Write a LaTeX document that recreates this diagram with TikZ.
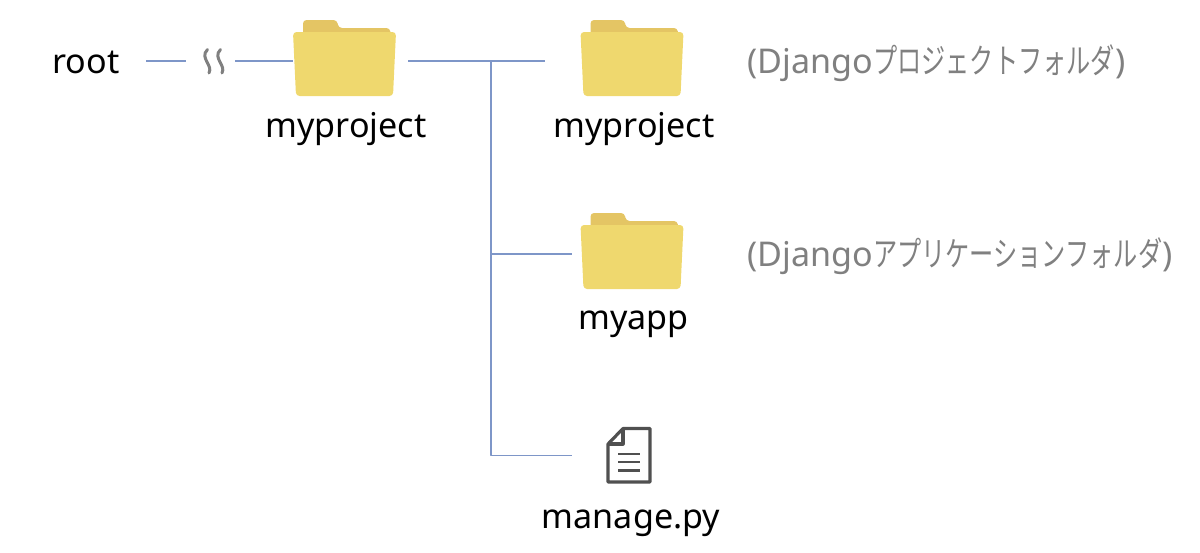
\documentclass[tikz,border=0pt]{standalone}
\usepackage{fontspec}
\setmainfont{Noto Sans}
\newfontfamily\cjk[FakeStretch=.71]{Noto Sans CJK JP}
\definecolor{folderfront}{HTML}{EFD86E}
\definecolor{folderback}{HTML}{E4C564}
\definecolor{linkblue}{HTML}{7E96C8}
\definecolor{notegray}{HTML}{808080}
\definecolor{docgray}{HTML}{505050}
\tikzset{
  link/.style={linkblue,line width=.75pt},
  itemname/.style={anchor=base,inner sep=0pt,font=\fontsize{19.4}{22}\selectfont},
  itemnote/.style={anchor=base west,inner sep=0pt,notegray,font=\fontsize{19.4}{22}\selectfont},
  slot/.style={inner sep=0pt,minimum width=#1},
  folder/.pic={
    \fill[folderback,rounded corners=2pt](-41.5,-20)--(-41.5,-41)--(-7.5,-41)--(-6,-33)--(45.5,-33)--(47,-20)--cycle;
    \fill[folderfront,rounded corners=2pt](-51.5,-29)--(51.5,-29)--(48.5,35)--(-48.5,35)--cycle;
  }
}
\begin{document}
\begin{tikzpicture}[x=.02cm,y=-.02cm,line join=round]
  \useasboundingbox (0,0) rectangle (1200,552);
  \foreach\n/\x/\y in{rootdir/344.5/61,projdir/632/61,appdir/632/254}{
    \pic at (\x,\y){folder};
    \node[slot=2.06cm,minimum height=1.28cm] (\n) at (\x,\y){};
  }
  \node[itemname] (root) at (86,73){root};
  \coordinate (rootend) at (146,61);
  \node[slot=.98cm,minimum height=.48cm] (wave) at (210.5,61){};
  \foreach\i in{0,13}{
    \draw[notegray,line width=1.7pt,line cap=round] (207.5+\i,49.5) .. controls (203+\i,54) and (205+\i,58) .. (207+\i,62) .. controls (209+\i,66) and (211+\i,69) .. (209+\i,73);
  }
  \node[slot=.88cm,minimum height=1.1cm] (doc) at (629,455.5){};
  \draw[docgray,line width=1.8pt] (623,428.5)--(650,428.5)--(650,482)--(608,482)--(608,444)--cycle;
  \draw[docgray,line width=1.8pt] (623,428.5)--(623,444)--(608,444);
  \foreach\y in{454,462,470.5}{\draw[docgray,line width=1.5pt] (618,\y)--(640,\y);}
  \node[itemname] (rootname) at (346,137){myproject};
  \node[itemname] (projname) at (634,137){myproject};
  \node[itemname] (appname) at (633.5,329.5){myapp};
  \node[itemname] (docname) at (631,528){manage.py};
  \node[itemnote] (projnote) at (747,73.5){(Django{\cjk プロジェクトフォルダ})};
  \node[itemnote] (appnote) at (747,266.5){(Django{\cjk アプリケーションフォルダ})};
  \coordinate (trunk) at (491,61);
  \draw[link] (rootend)--(wave.west);
  \draw[link] (wave.east)--(rootdir.west);
  \draw[link,shorten <=.24cm,shorten >=.7cm] (rootdir.east)--(projdir.west);
  \draw[link,shorten >=.16cm] (trunk)|-(appdir.west);
  \draw[link,shorten >=.7cm] (trunk)|-(doc.west);
\end{tikzpicture}
\end{document}
